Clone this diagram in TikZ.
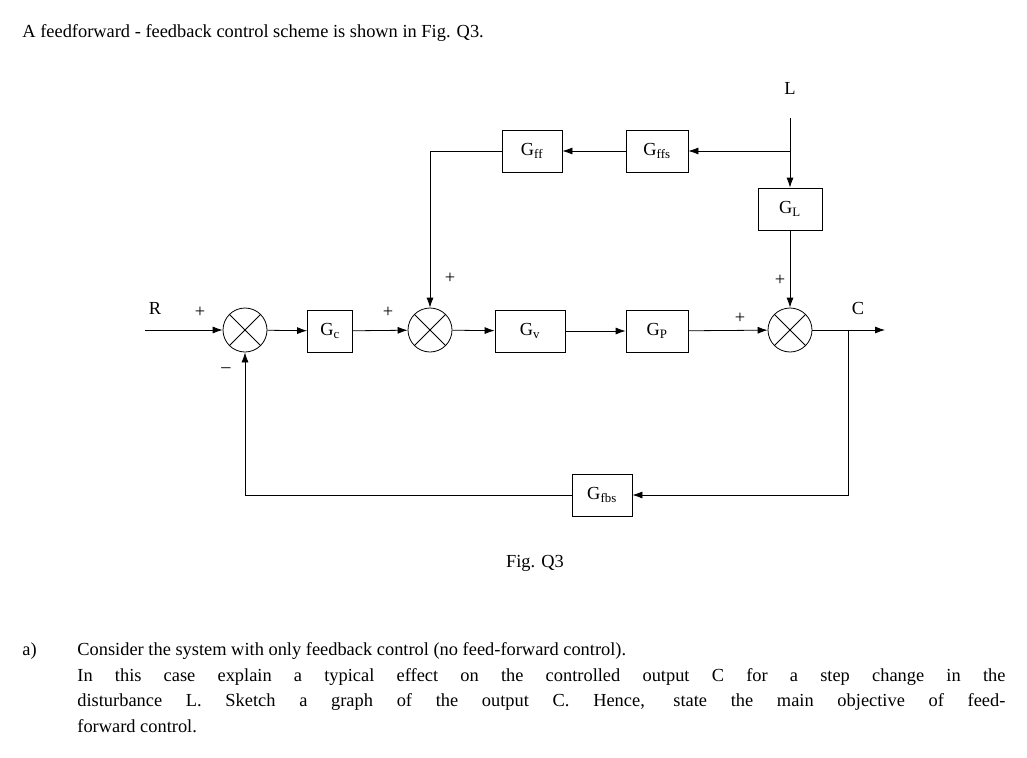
\documentclass[tikz,border=0pt]{standalone}
\usepackage{fontspec}
\setmainfont{Liberation Serif}
\usetikzlibrary{arrows.meta}
\begin{document}
\begin{tikzpicture}[x=1pt,y=-1pt,line width=0.8pt,
  every node/.style={font=\fontsize{18.4}{25.7}\selectfont},
  blk/.style={draw,minimum height=42pt,inner sep=2pt},
  sum/.style={draw,circle,minimum size=44pt,inner sep=0pt,
    path picture={\draw (path picture bounding box.north west)--(path picture bounding box.south east)
      (path picture bounding box.north east)--(path picture bounding box.south west);}},
  arr/.style={-{Latex[length=10pt,width=7pt]}},
  lbl/.style={inner sep=0pt}]
\useasboundingbox (0,0) rectangle (1027,757);
\node[lbl,anchor=west] (title) at (22,33) {A feedforward - feedback control scheme is shown in Fig. Q3.};
\node[sum] (s1) at (245,330) {};
\node[sum] (s2) at (430,330) {};
\node[sum] (s3) at (790,330) {};
\node[blk,minimum width=45pt] (gc) at (330,331) {G\textsubscript{c}};
\node[blk,minimum width=70pt] (gv) at (530,331) {G\textsubscript{v}};
\node[blk,minimum width=62pt] (gp) at (657,331) {G\textsubscript{P}};
\node[blk,minimum width=60pt] (gff) at (532,151) {G\textsubscript{ff}};
\node[blk,minimum width=62pt] (gffs) at (657,151) {G\textsubscript{ffs}};
\node[blk,minimum width=64pt] (gl) at (790,209) {G\textsubscript{L}};
\node[blk,minimum width=60pt] (gfbs) at (602,495) {G\textsubscript{fbs}};
\node[lbl] (lL) at (790,88) {L};
\node[lbl] (lR) at (155,308) {R};
\node[lbl] (lC) at (858,308) {C};
\node[lbl] (p1) at (200,312) {+};
\node[lbl] (m1) at (226,370) {--};
\node[lbl] (p2) at (388,312) {+};
\node[lbl] (p3) at (450,278) {+};
\node[lbl] (p4) at (740,318) {+};
\node[lbl] (p5) at (780,280) {+};
\coordinate (Ltop) at (790,118);
\coordinate (br1) at (790,151);
\coordinate (Rin) at (145,330);
\coordinate (Cout) at (885,330);
\coordinate (br2) at (848,330);
\coordinate (fb1) at (848,495);
\coordinate (fb2) at (245,495);
\coordinate (ff1) at (430,151);
\draw[arr] (Rin) -- (s1);
\draw[arr] (s1) -- (gc);
\draw[arr] (gc) -- (s2);
\draw[arr] (s2) -- (gv);
\draw[arr] (gv) -- (gp);
\draw[arr] (gp) -- (s3);
\draw[arr] (s3) -- (Cout);
\draw[arr] (Ltop) -- (gl);
\draw[arr] (gl) -- (s3);
\draw[arr] (br1) -- (gffs);
\draw[arr] (gffs) -- (gff);
\draw[arr] (gff) -- (ff1) -- (s2);
\draw[arr] (br2) -- (fb1) -- (gfbs);
\draw[arr] (gfbs) -- (fb2) -- (s1);
\node[lbl] (fig) at (535,563) {Fig. Q3};
\node[lbl,anchor=north west] (qa) at (22,642) {a)};
\node[lbl,anchor=north west,text width=928pt,align=justify] (txt) at (77,642)
{Consider the system with only feedback control (no feed-forward control).\\
In this case explain a typical effect on the controlled output C for a step change in the\linebreak disturbance L. Sketch a graph of the output C. Hence, state the main objective of feed-\linebreak forward control.};
\end{tikzpicture}
\end{document}
